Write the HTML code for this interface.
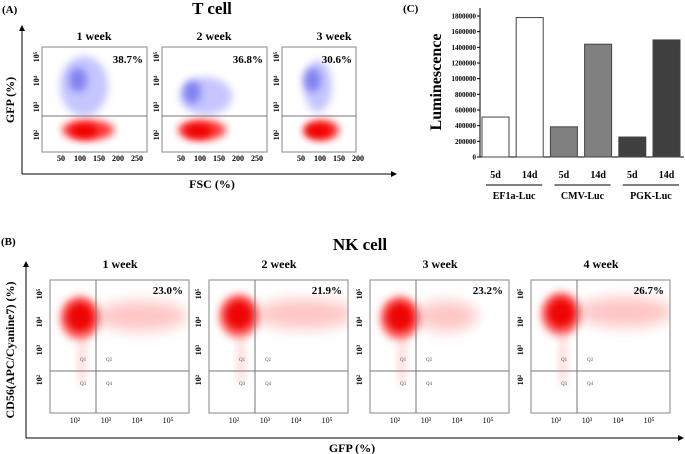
<!DOCTYPE html>
<html><head><meta charset="utf-8"><style>
body{margin:0;background:#fff}
svg{display:block;font-family:"Liberation Serif",serif;font-weight:bold}
</style></head><body>
<svg id="fig" width="685" height="454" viewBox="0 0 685 454">
<defs>
<filter id="bl" x="-50%" y="-50%" width="200%" height="200%"><feGaussianBlur stdDeviation="4"/></filter>
<filter id="bl2" x="-50%" y="-50%" width="200%" height="200%"><feGaussianBlur stdDeviation="7"/></filter>
<marker id="ar" markerWidth="6" markerHeight="6" refX="5" refY="3" orient="auto"><path d="M0,0L6,3L0,6z" fill="#000"/></marker>
</defs>
<g>
<text x="2" y="13" font-size="11">(A)</text>
<text x="212" y="14" font-size="17" text-anchor="middle">T cell</text>
<line x1="22" y1="174" x2="22" y2="26" stroke="#000" marker-end="url(#ar)"/>
<line x1="22" y1="174" x2="396" y2="174" stroke="#000" marker-end="url(#ar)"/>
<text x="14" y="100" font-size="12" text-anchor="middle" transform="rotate(-90 14 100)">GFP (%)</text>
<text x="212" y="188" font-size="12" text-anchor="middle">FSC (%)</text>
<g id="aplots"></g>
</g>
<g>
<text x="403" y="12" font-size="11">(C)</text>
<text x="441" y="82" font-size="16" text-anchor="middle" transform="rotate(-90 441 82)">Luminescence</text>
<g id="cchart"></g>
</g>
<g>
<text x="1" y="245" font-size="11">(B)</text>
<text x="360" y="250" font-size="17" text-anchor="middle">NK cell</text>
<line x1="26" y1="438" x2="26" y2="262" stroke="#000" marker-end="url(#ar)"/>
<line x1="26" y1="438" x2="683" y2="438" stroke="#000" marker-end="url(#ar)"/>
<text x="14" y="350" font-size="12" text-anchor="middle" transform="rotate(-90 14 350)">CD56(APC/Cyanine7) (%)</text>
<text x="352" y="452" font-size="12" text-anchor="middle">GFP (%)</text>
<g id="bplots"></g>
</g>
</svg>
<script>
const NS="http://www.w3.org/2000/svg";
function mk(p,tag,at,txt){const e=document.createElementNS(NS,tag);for(const k in at)e.setAttribute(k,at[k]);if(txt!==undefined)e.textContent=txt;p.appendChild(e);return e;}

// ---- Panel C bar chart data ----
const barCategories=["5d","14d","5d","14d","5d","14d"];
const barGroups=["EF1a-Luc","CMV-Luc","PGK-Luc"];
const barValues=[510000,1780000,385000,1440000,255000,1495000];
const barFills=["#fff","#fff","#808080","#808080","#404040","#404040"];
const yTicks=[0,200000,400000,600000,800000,1000000,1200000,1400000,1600000,1800000];

const cg=document.getElementById('cchart');
const y0=157,yTop=16,xAxis=480;
function yS(v){return y0-(v/1800000)*(y0-yTop);}
const slot=34.2,x0=482;
function xS(i){return x0+i*slot;}
let ax=mk(cg,'line',{x1:xAxis,y1:8,x2:xAxis,y2:y0,stroke:'#000'});

mk(cg,'line',{x1:xAxis,y1:y0,x2:684,y2:y0,stroke:'#000'});
yTicks.forEach(v=>{
  mk(cg,'line',{x1:xAxis-3,y1:yS(v),x2:xAxis,y2:yS(v),stroke:'#000'});
  const t=mk(cg,'text',{x:xAxis-4,y:yS(v)+2.5,'font-size':7,'text-anchor':'end'},String(v));
  
});
barValues.forEach((v,i)=>{
  const r=mk(cg,'rect',{x:xS(i),y:yS(v),width:27,height:y0-yS(v),fill:barFills[i],stroke:'#444','stroke-width':1});
  
  
  const t=mk(cg,'text',{x:xS(i)+13.5,y:178,'font-size':10,'text-anchor':'middle'},barCategories[i]);
  
});
barGroups.forEach((g,j)=>{
  const xa=xS(2*j)+4,xb=xS(2*j+1)+26;
  mk(cg,'line',{x1:xa,y1:185,x2:xb,y2:185,stroke:'#000'});
  const t=mk(cg,'text',{x:(xa+xb)/2,y:199,'font-size':10,'text-anchor':'middle'},g);
  
});

// ---- Panel A flow plots ----
const aWeeks=["1 week","2 week","3 week"];
const aPcts=["38.7%","36.8%","30.6%"];
const aBoxX=[42,162,282];
const ag=document.getElementById('aplots');
aWeeks.forEach((w,i)=>{
  const bx=aBoxX[i],bw=(i==2?74:105),by=47,bh=105,gate=116;
  const g=mk(ag,'g',{});
  
  const t=mk(g,'text',{x:bx+52,y:40,'font-size':12,'text-anchor':'middle'},w);
  
  const cl=mk(g,'clipPath',{id:'ca'+i});mk(cl,'rect',{x:bx,y:by,width:bw,height:bh});
  const d=mk(g,'g',{'clip-path':'url(#ca'+i+')'});
  const cx=bx+(i==0?42:i==1?36:36);
  mk(d,'ellipse',{cx:cx+(i==1?8:0),cy:i==1?96:86,rx:i==0?24:i==1?26:14,ry:i==0?30:i==1?19:26,fill:'#8080ff',opacity:.45,filter:'url(#bl)'});
  mk(d,'ellipse',{cx:cx-6,cy:i==1?92:80,rx:9,ry:12,fill:'#3030e0',opacity:.45,filter:'url(#bl)'});
  mk(d,'ellipse',{cx:cx+4,cy:130,rx:i==0?26:i==1?24:17,ry:10,fill:'#ff2020',opacity:.9,filter:'url(#bl)'});
  mk(d,'ellipse',{cx:cx,cy:131,rx:14,ry:7,fill:'#ee0000',filter:'url(#bl)'});
  mk(g,'rect',{x:bx,y:by,width:bw,height:bh,fill:'none',stroke:'#999','stroke-width':1.2});
  mk(g,'line',{x1:bx,y1:gate,x2:bx+bw,y2:gate,stroke:'#777'});
  const p=mk(g,'text',{x:bx+bw-4,y:63,'font-size':11,'text-anchor':'end'},aPcts[i]);
  
  ["⁵","⁴","³","²"].forEach((e,k)=>{
    const yy=[57,81,107,135][k];
    mk(g,'text',{x:bx-3,y:yy,'font-size':8,'text-anchor':'middle',transform:`rotate(-90 ${bx-3} ${yy})`},'10'+e);
  });
  ["50","100","150","200","250"].forEach((l,k)=>{
    const xx=bx+19+k*19;
    if(xx<bx+bw+10) mk(g,'text',{x:xx,y:161,'font-size':8,'text-anchor':'middle'},l);
  });
});

// ---- Panel B flow plots ----
const bWeeks=["1 week","2 week","3 week","4 week"];
const bPcts=["23.0%","21.9%","23.2%","26.7%"];
const bBoxX=[50,209,370,531];
const bg=document.getElementById('bplots');
bWeeks.forEach((w,i)=>{
  const bx=bBoxX[i],bw=139,by=280,bh=133,vx=bx+46,hy=371;
  const g=mk(bg,'g',{});
  
  const t=mk(g,'text',{x:bx+70,y:268,'font-size':12,'text-anchor':'middle'},w);
  
  const cl=mk(g,'clipPath',{id:'cb'+i});mk(cl,'rect',{x:bx,y:by,width:bw,height:bh});
  const d=mk(g,'g',{'clip-path':'url(#cb'+i+')'});
  const tailEnd=[bw-10,bw-2,bw-40,bw-5][i];
  const cy=[318,316,318,314][i];
  mk(d,'ellipse',{cx:bx+(vx-bx+tailEnd)/2+4,cy:cy-2,rx:(tailEnd-(vx-bx))/2+4,ry:15,fill:'#ff7070',opacity:.4,filter:'url(#bl2)'});
  mk(d,'ellipse',{cx:bx+30,cy:cy,rx:20,ry:22,fill:'#ff3030',opacity:.7,filter:'url(#bl)'});
  mk(d,'ellipse',{cx:bx+30,cy:cy-1,rx:14,ry:15,fill:'#ee0000',opacity:.95,filter:'url(#bl)'});
  mk(d,'ellipse',{cx:bx+32,cy:360,rx:4,ry:28,fill:'#ff8080',opacity:.3,filter:'url(#bl)'});
  mk(g,'rect',{x:bx,y:by,width:bw,height:bh,fill:'none',stroke:'#999','stroke-width':1.2});
  mk(g,'line',{x1:vx,y1:by,x2:vx,y2:by+bh,stroke:'#777'});
  mk(g,'line',{x1:bx,y1:hy,x2:bx+bw,y2:hy,stroke:'#777'});
  [["Q1",vx-16,361],["Q2",vx+10,361],["Q3",vx-16,385],["Q4",vx+10,385]].forEach(q=>mk(g,'text',{x:q[1],y:q[2],'font-size':5,'font-weight':'normal',fill:'#555'},q[0]));
  const p=mk(g,'text',{x:bx+bw-6,y:294,'font-size':11,'text-anchor':'end'},bPcts[i]);
  
  ["⁵","⁴","³","²"].forEach((e,k)=>{
    const yy=[294,322,350,380][k];
    mk(g,'text',{x:bx-8,y:yy,'font-size':8,'text-anchor':'middle',transform:`rotate(-90 ${bx-8} ${yy})`},'10'+e);
  });
  ["²","³","⁴","⁵"].forEach((e,k)=>{
    mk(g,'text',{x:bx+25+k*31,y:423,'font-size':8,'text-anchor':'middle','font-weight':'normal'},'10'+e);
  });
});
</script>
</body></html>
